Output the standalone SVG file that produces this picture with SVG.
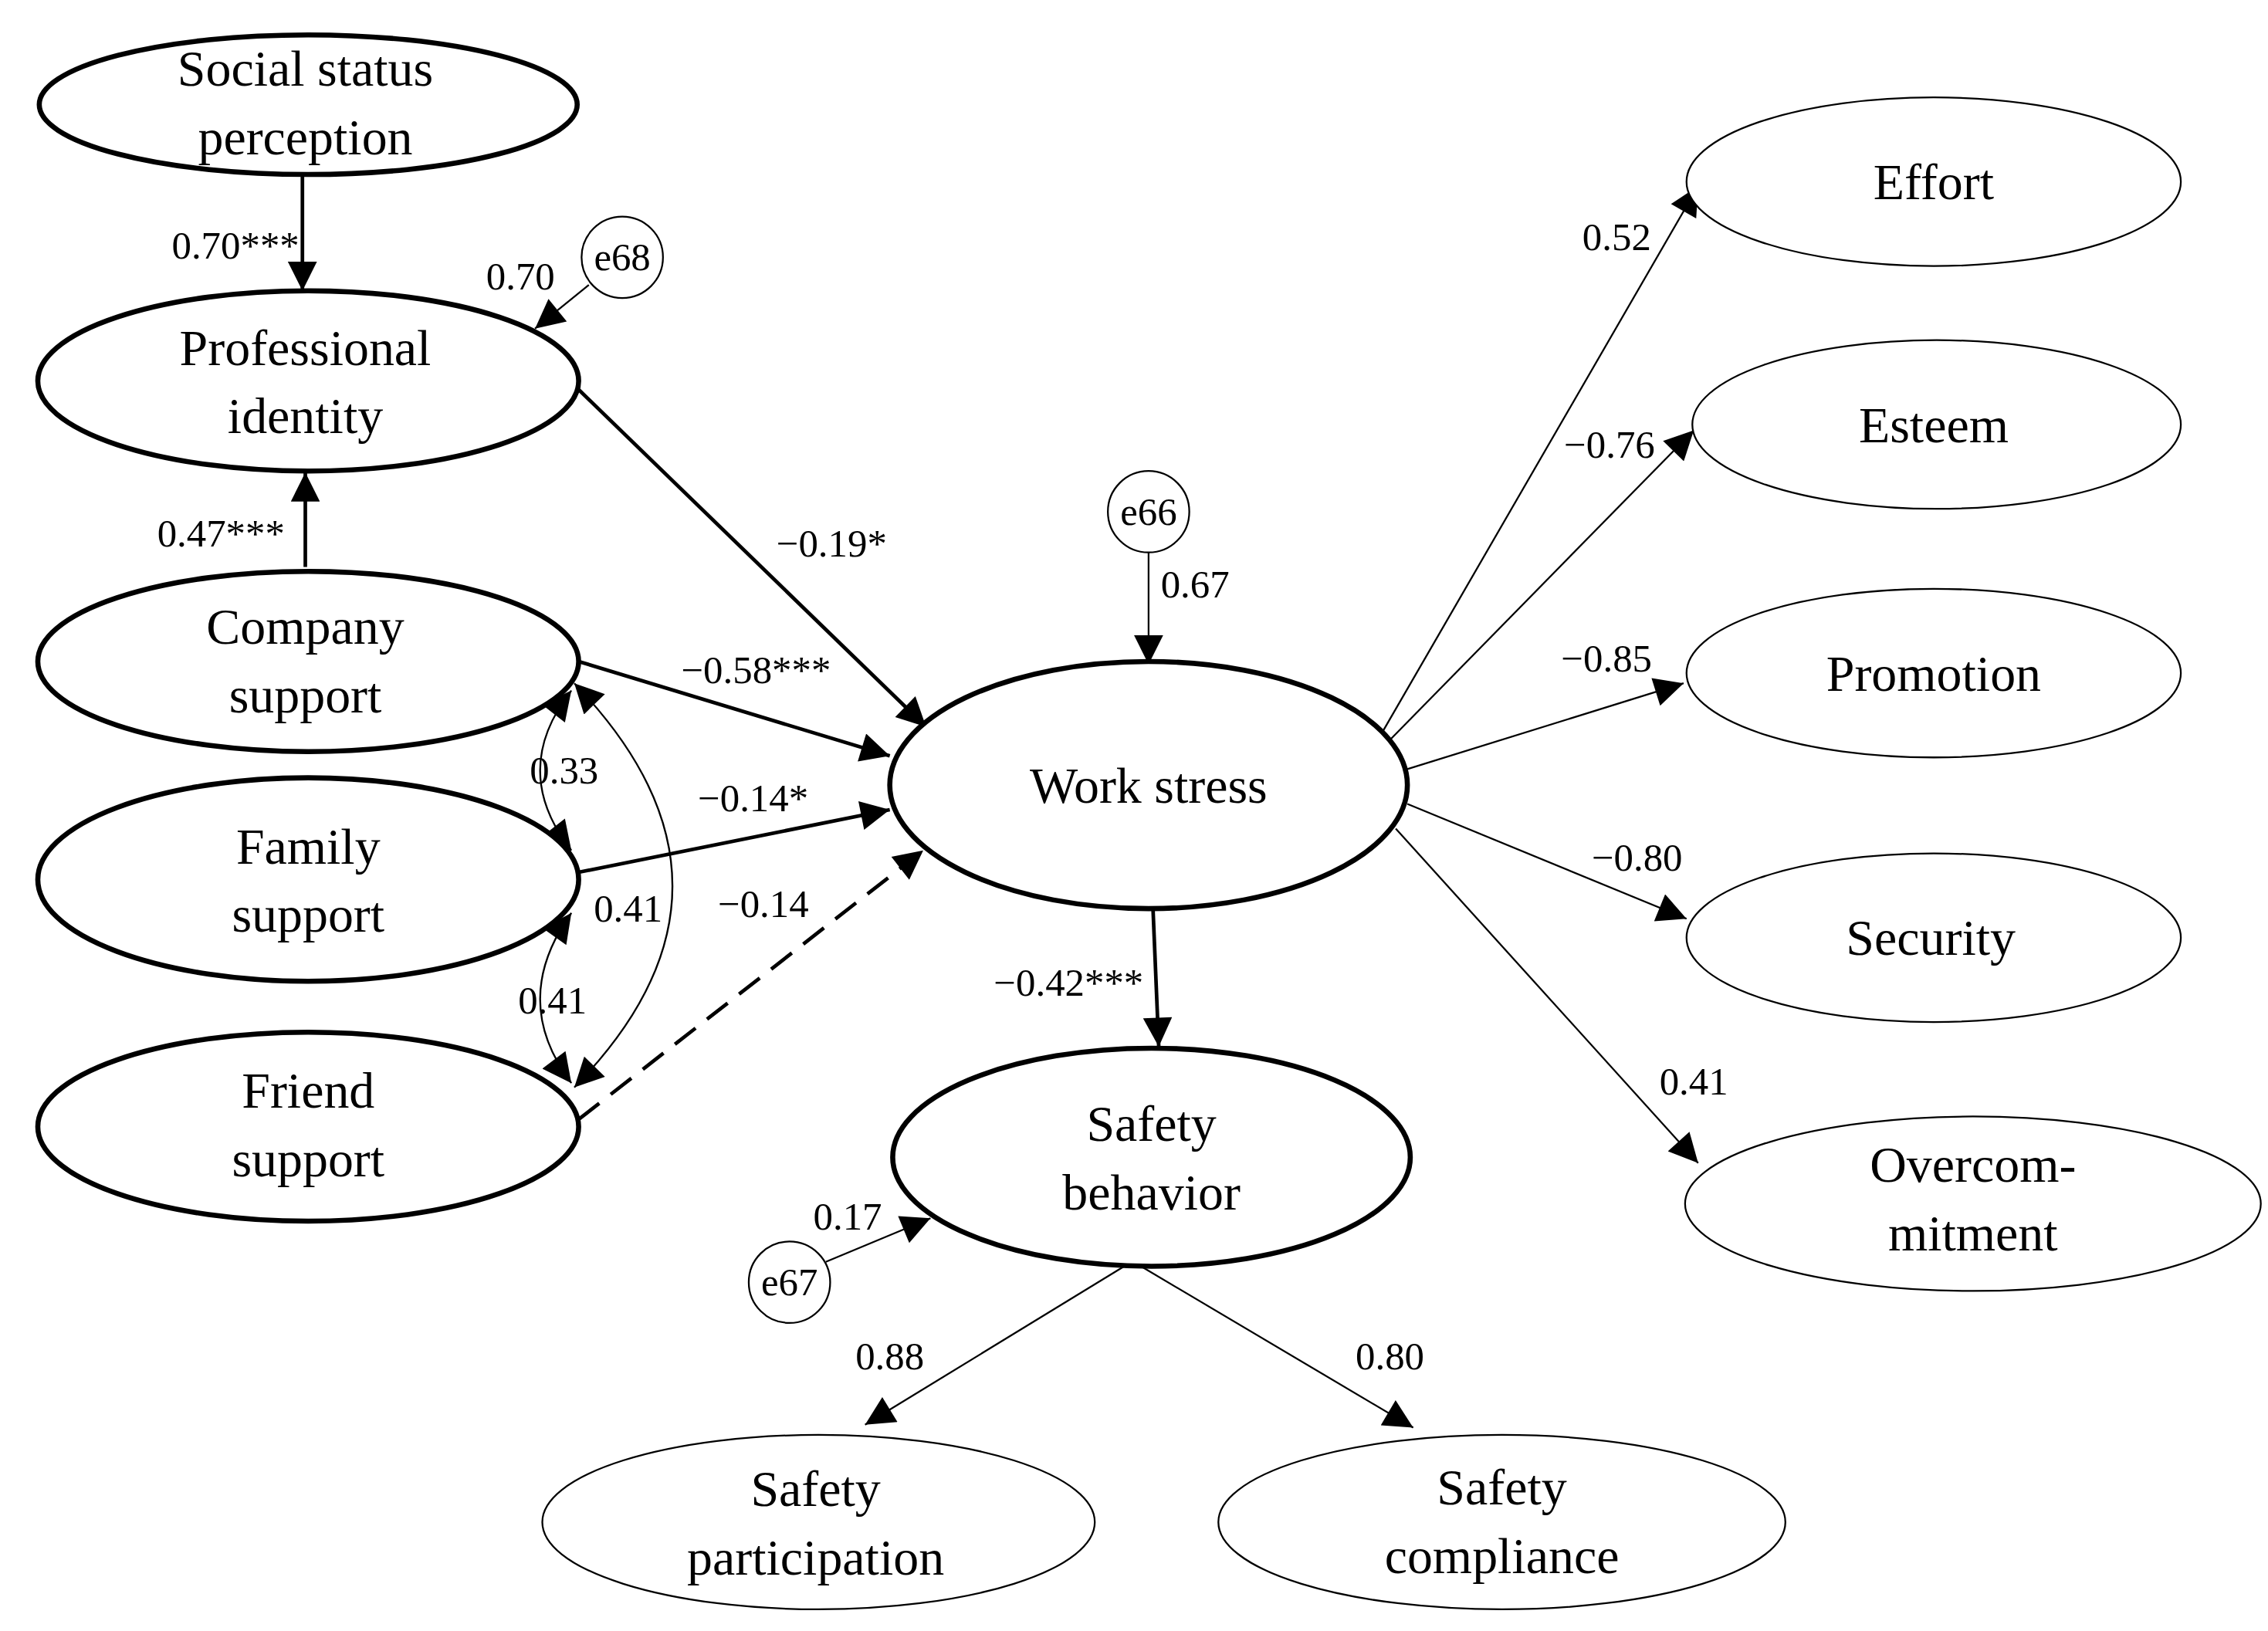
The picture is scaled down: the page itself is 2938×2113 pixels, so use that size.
<svg xmlns="http://www.w3.org/2000/svg" width="2938" height="2113" viewBox="0 0 2938 2113">
<defs>
<marker id="ah" viewBox="0 0 10 10" refX="10" refY="5" markerWidth="10" markerHeight="10" markerUnits="userSpaceOnUse" orient="auto-start-reverse"><path d="M0,0 L10,5 L0,10 z" fill="#000"/></marker>
<marker id="ahs" viewBox="0 0 10 10" refX="10" refY="5" markerWidth="22" markerHeight="20" markerUnits="userSpaceOnUse" orient="auto-start-reverse"><path d="M0,0 L10,5 L0,10 z" fill="#000"/></marker>
</defs>
<style>
.tk{fill:#fff;stroke:#000;stroke-width:3.5}
.tn{fill:#fff;stroke:#000;stroke-width:1.2}
.t{font-family:"Liberation Serif",serif;font-size:35px;text-anchor:middle;fill:#000}
.l{font-family:"Liberation Serif",serif;font-size:27px;text-anchor:middle;fill:#000}
.c{stroke:#000;fill:none}
.b{stroke-width:2.5;marker-end:url(#ahs)}
.n{stroke-width:1.2;marker-end:url(#ahs)}
</style>
<rect width="2938" height="2113" fill="#fff"/>
<g transform="scale(1.8834)">
<g id="connectors">
<line class="c b" x1="208" y1="120" x2="208" y2="200"/>
<line class="c n" x1="405" y1="196" x2="368" y2="226"/>
<line class="c b" x1="210" y1="390" x2="210" y2="325"/>
<line class="c b" x1="398" y1="268" x2="637" y2="500"/>
<line class="c b" x1="398" y1="455" x2="612" y2="520"/>
<line class="c b" x1="398" y1="600" x2="612" y2="557"/>
<line class="c b" x1="398" y1="770" x2="635" y2="585" stroke-dasharray="18,10"/>
<line class="c n" x1="790" y1="380" x2="790" y2="457"/>
<line class="c b" x1="793" y1="624" x2="797" y2="720"/>
<line class="c n" x1="568" y1="868" x2="640" y2="838"/>
<line class="c n" x1="950" y1="505" x2="1168" y2="128"/>
<line class="c n" x1="955" y1="510" x2="1165" y2="296"/>
<line class="c n" x1="965" y1="530" x2="1158" y2="470"/>
<line class="c n" x1="968" y1="553" x2="1160" y2="632"/>
<line class="c n" x1="960" y1="570" x2="1168" y2="800"/>
<line class="c n" x1="775" y1="870" x2="595" y2="980"/>
<line class="c n" x1="783" y1="870" x2="972" y2="982"/>
<path class="c" stroke-width="1.2" marker-start="url(#ahs)" marker-end="url(#ahs)" d="M393,475 Q350,530 393,585"/>
<path class="c" stroke-width="1.2" marker-start="url(#ahs)" marker-end="url(#ahs)" d="M393,628 Q350,688 393,745"/>
<path class="c" stroke-width="1.2" marker-start="url(#ahs)" marker-end="url(#ahs)" d="M395,470 Q530,610 395,748"/>
</g>
<g id="labels">
<text class="l" x="162" y="178">0.70***</text>
<text class="l" x="358" y="199">0.70</text>
<text class="l" x="152" y="376">0.47***</text>
<text class="l" x="572" y="383">−0.19*</text>
<text class="l" x="520" y="470">−0.58***</text>
<text class="l" x="518" y="558">−0.14*</text>
<text class="l" x="525" y="631">−0.14</text>
<text class="l" x="822" y="411">0.67</text>
<text class="l" x="735" y="685">−0.42***</text>
<text class="l" x="583" y="846">0.17</text>
<text class="l" x="1112" y="172">0.52</text>
<text class="l" x="1107" y="315">−0.76</text>
<text class="l" x="1105" y="462">−0.85</text>
<text class="l" x="1126" y="599">−0.80</text>
<text class="l" x="1165" y="753">0.41</text>
<text class="l" x="612" y="942">0.88</text>
<text class="l" x="956" y="942">0.80</text>
<text class="l" x="388" y="539">0.33</text>
<text class="l" x="380" y="697">0.41</text>
<text class="l" x="432" y="634">0.41</text>
</g>
<g id="n-social"><ellipse class="tk" cx="212" cy="72" rx="185" ry="48"/><text class="t" x="210" y="59">Social status</text><text class="t" x="210" y="106">perception</text></g>
<g id="n-prof"><ellipse class="tk" cx="212" cy="262" rx="186" ry="62"/><text class="t" x="210" y="251">Professional</text><text class="t" x="210" y="298">identity</text></g>
<g id="n-company"><ellipse class="tk" cx="212" cy="455" rx="186" ry="62"/><text class="t" x="210" y="443">Company</text><text class="t" x="210" y="490">support</text></g>
<g id="n-family"><ellipse class="tk" cx="212" cy="605" rx="186" ry="70"/><text class="t" x="212" y="594">Family</text><text class="t" x="212" y="641">support</text></g>
<g id="n-friend"><ellipse class="tk" cx="212" cy="775" rx="186" ry="65"/><text class="t" x="212" y="762">Friend</text><text class="t" x="212" y="809">support</text></g>
<g id="n-work"><ellipse class="tk" cx="790" cy="540" rx="178" ry="85"/><text class="t" x="790" y="552">Work stress</text></g>
<g id="n-safety"><ellipse class="tk" cx="792" cy="796" rx="178" ry="75"/><text class="t" x="792" y="785">Safety</text><text class="t" x="792" y="832">behavior</text></g>
<g id="e68"><circle class="tn" cx="428" cy="177" r="28"/><text class="l" x="428" y="186">e68</text></g>
<g id="e66"><circle class="tn" cx="790" cy="352" r="28"/><text class="l" x="790" y="361">e66</text></g>
<g id="e67"><circle class="tn" cx="543" cy="882" r="28"/><text class="l" x="543" y="891">e67</text></g>
<g id="n-effort"><ellipse class="tn" cx="1330" cy="125" rx="170" ry="58"/><text class="t" x="1330" y="137">Effort</text></g>
<g id="n-esteem"><ellipse class="tn" cx="1332" cy="292" rx="168" ry="58"/><text class="t" x="1330" y="304">Esteem</text></g>
<g id="n-promotion"><ellipse class="tn" cx="1330" cy="463" rx="170" ry="58"/><text class="t" x="1330" y="475">Promotion</text></g>
<g id="n-security"><ellipse class="tn" cx="1330" cy="645" rx="170" ry="58"/><text class="t" x="1328" y="657">Security</text></g>
<g id="n-over"><ellipse class="tn" cx="1357" cy="828" rx="198" ry="60"/><text class="t" x="1357" y="813">Overcom-</text><text class="t" x="1357" y="860">mitment</text></g>
<g id="n-part"><ellipse class="tn" cx="563" cy="1047" rx="190" ry="60"/><text class="t" x="561" y="1036">Safety</text><text class="t" x="561" y="1083">participation</text></g>
<g id="n-comp"><ellipse class="tn" cx="1033" cy="1047" rx="195" ry="60"/><text class="t" x="1033" y="1035">Safety</text><text class="t" x="1033" y="1082">compliance</text></g>
</g>
</svg>
